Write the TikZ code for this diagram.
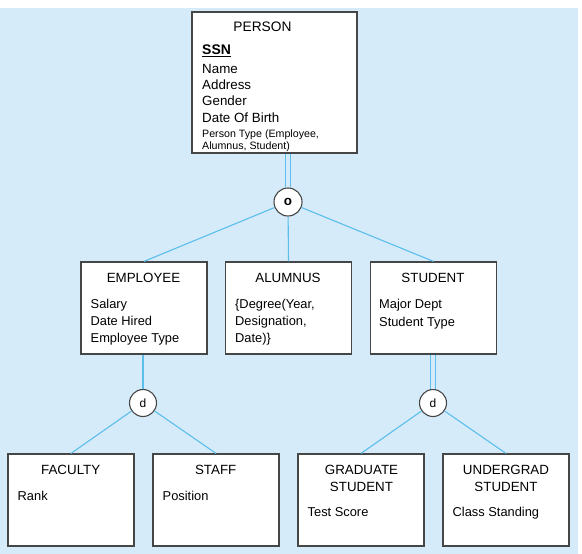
\documentclass[tikz,border=0pt]{standalone}
\usepackage{fontspec}
\setmainfont{Liberation Sans}
\definecolor{bgblue}{RGB}{213,235,249}
\definecolor{lineblue}{RGB}{92,190,236}
\definecolor{boxgray}{RGB}{70,70,70}
\begin{document}
\begin{tikzpicture}[x=1bp,y=-1bp,
  entity/.style={draw=boxgray,line width=1.2bp,fill=white,rectangle,inner sep=0pt,minimum width=126bp,minimum height=92bp},
  circ/.style={draw=boxgray,line width=1.1bp,fill=white,circle,inner sep=0pt,minimum size=27bp,font=\fontsize{12}{12}\selectfont},
  title/.style={inner sep=0pt,anchor=base,font=\fontsize{13.4}{13.4}\selectfont},
  attr/.style={inner sep=0pt,anchor=base west,font=\fontsize{12.9}{12.9}\selectfont},
  pattr/.style={inner sep=0pt,anchor=base west,font=\fontsize{13.4}{13.4}\selectfont},
  small/.style={inner sep=0pt,anchor=base west,font=\fontsize{10.7}{10.7}\selectfont},
  link/.style={draw=lineblue,line width=1.1bp},
  dbl/.style={draw=lineblue,line width=1bp,double=bgblue,double distance=3.5bp}]
\useasboundingbox (0,0) rectangle (582,554);
\fill[bgblue] (0,8) rectangle (578,554);
% entity boxes
\node[entity,minimum width=165bp,minimum height=141bp] (person) at (274.5,82.5) {};
\node[entity] (employee) at (144,308) {};
\node[entity] (alumnus) at (288.5,308) {};
\node[entity] (student) at (433.5,308) {};
\node[entity] (faculty) at (71,500) {};
\node[entity] (staff) at (216,500) {};
\node[entity] (grad) at (361,500) {};
\node[entity] (under) at (506,500) {};
% circles
\node[circ,minimum size=28bp,font=\fontsize{13.5}{13.5}\bfseries] (o) at (288,202) {o};
\node[circ] (d1) at (143,403) {d};
\node[circ] (d2) at (433,403) {d};
% connectors
\draw[dbl] (o.north) -- (o.north |- person.south);
\draw[link] (o) -- (employee.north);
\draw[link] (o) -- (alumnus.north);
\draw[link] (o) -- (student.north);
\draw[link] (d1.north) -- (d1.north |- employee.south);
\draw[link] (d1) -- (faculty.north);
\draw[link] (d1) -- (staff.north);
\draw[dbl] (d2.north) -- (d2.north |- student.south);
\draw[link] (d2) -- (grad.north);
\draw[link] (d2) -- (under.north);
% PERSON text
\node[title,font=\fontsize{13.8}{13.8}\selectfont] (tperson) at (262.5,31.5) {PERSON};
\node[pattr,font=\fontsize{14}{14}\bfseries] (pssn) at (202,55) {\underline{SSN}};
\node[pattr] (pname) at (202,73.3) {Name};
\node[pattr] (paddr) at (202,89.8) {Address};
\node[pattr] (pgend) at (202,106) {Gender};
\node[pattr] (pdob) at (202,122.3) {Date Of Birth};
\node[small] (ptype1) at (202,137.5) {Person Type (Employee,};
\node[small] (ptype2) at (202,150) {Alumnus, Student)};
% EMPLOYEE text
\node[title] (temp) at (143.5,282.3) {EMPLOYEE};
\node[attr] (esal) at (90.5,308.5) {Salary};
\node[attr] (ehire) at (90.5,325.3) {Date Hired};
\node[attr] (etype) at (90.5,342.1) {Employee Type};
% ALUMNUS text
\node[title] (talum) at (288,282.3) {ALUMNUS};
\node[attr] (adeg) at (235,308.5) {\{Degree(Year,};
\node[attr] (adesig) at (235,325.3) {Designation,};
\node[attr] (adate) at (235,342.1) {Date)\}};
% STUDENT text
\node[title] (tstud) at (433,282.3) {STUDENT};
\node[attr] (smaj) at (379,308.5) {Major Dept};
\node[attr] (stype) at (379,326.5) {Student Type};
% bottom row text
\node[title] (tfac) at (70.7,474.3) {FACULTY};
\node[attr] (frank) at (17.5,500) {Rank};
\node[title] (tstaff) at (215.7,474.3) {STAFF};
\node[attr] (spos) at (162.5,500) {Position};
\node[title] (tgrad1) at (361.5,474.3) {GRADUATE};
\node[title] (tgrad2) at (361.5,491) {STUDENT};
\node[attr] (gts) at (307.5,516.7) {Test Score};
\node[title] (tund1) at (506,474.3) {UNDERGRAD};
\node[title] (tund2) at (506,491) {STUDENT};
\node[attr] (ucs) at (452.5,516.7) {Class Standing};
\end{tikzpicture}
\end{document}
